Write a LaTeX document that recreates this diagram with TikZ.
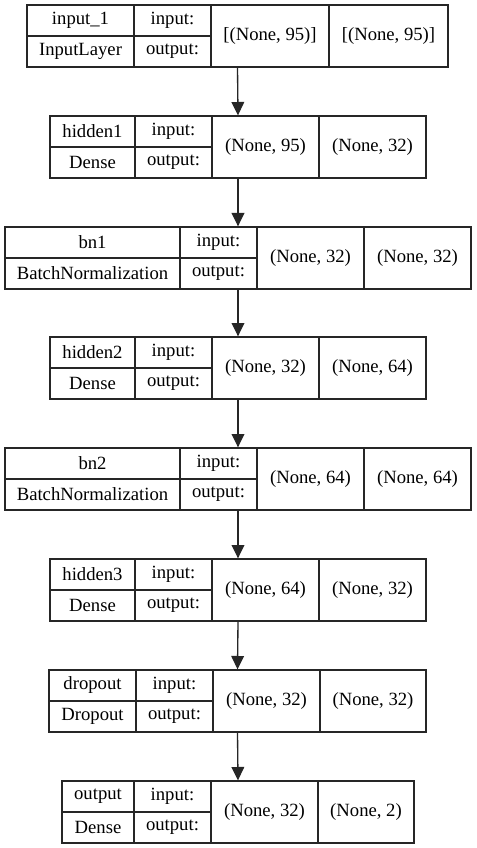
\documentclass[tikz,border=0pt]{standalone}
\usepackage{fontspec}
\setmainfont{Liberation Serif}
\newfontfamily\gvfont{Liberation Serif}
\usetikzlibrary{arrows.meta,fit}
\tikzset{
  ln/.style={draw=black!85, line width=1pt},
  lab/.style={font=\gvfont\fontsize{14pt}{16pt}\selectfont, inner sep=0pt, anchor=center},
  arr/.style={ln, -{Triangle[length=10pt,width=9.5pt]}},
}
% name, top, x0..x4
\newcommand\lay[7]{%
  \def\T{#2}\def\Xa{#3}\def\Xb{#4}\def\Xc{#5}\def\Xd{#6}\def\Xe{#7}%
  \node[ln, fit={(#3,#2) (#7,#2+62)}, inner sep=0pt] (#1) {};
  \draw[ln] (#4,#2) -- (#4,#2+62);
  \draw[ln] (#5,#2) -- (#5,#2+62);
  \draw[ln] (#6,#2) -- (#6,#2+62);
  \draw[ln] (#3,#2+31) -- (#5,#2+31);
}
% layer name, type, in shape, out shape
\newcommand\labs[4]{%
  \node[lab] at ({(\Xa+\Xb)/2},{\T+15.5}) {#1};
  \node[lab] at ({(\Xa+\Xb)/2},{\T+46.5}) {#2};
  \node[lab] at ({(\Xb+\Xc)/2},{\T+15.5}) {input:};
  \node[lab] at ({(\Xb+\Xc)/2},{\T+46.5}) {output:};
  \node[lab] at ({(\Xc+\Xd)/2},{\T+31}) {#3};
  \node[lab] at ({(\Xd+\Xe)/2},{\T+31}) {#4};
}
\begin{document}
\begin{tikzpicture}[x=0.75pt,y=-0.75pt]
\useasboundingbox[fill=white] (0,0) rectangle (476,848);
\lay{L1}{5}{27}{134}{211}{329}{448}
\labs{input\_1}{InputLayer}{[(None, 95)]}{[(None, 95)]}
\lay{L2}{116}{50}{135}{212}{319}{426}
\labs{hidden1}{Dense}{(None, 95)}{(None, 32)}
\lay{L3}{227}{5}{180}{257}{364}{471}
\labs{bn1}{BatchNormalization}{(None, 32)}{(None, 32)}
\lay{L4}{337}{50}{135}{212}{319}{426}
\labs{hidden2}{Dense}{(None, 32)}{(None, 64)}
\lay{L5}{448}{5}{180}{257}{364}{471}
\labs{bn2}{BatchNormalization}{(None, 64)}{(None, 64)}
\lay{L6}{559}{50}{135}{212}{319}{426}
\labs{hidden3}{Dense}{(None, 64)}{(None, 32)}
\lay{L7}{670}{49}{136}{213}{320}{426}
\labs{dropout}{Dropout}{(None, 32)}{(None, 32)}
\lay{L8}{781}{62}{134}{211}{318}{414}
\labs{output}{Dense}{(None, 32)}{(None, 2)}
\draw[arr] (L1.south) -- (L2.north);
\draw[arr] (L2.south) -- (L3.north);
\draw[arr] (L3.south) -- (L4.north);
\draw[arr] (L4.south) -- (L5.north);
\draw[arr] (L5.south) -- (L6.north);
\draw[arr] (L6.south) -- (L7.north);
\draw[arr] (L7.south) -- (L8.north);
\end{tikzpicture}
\end{document}
